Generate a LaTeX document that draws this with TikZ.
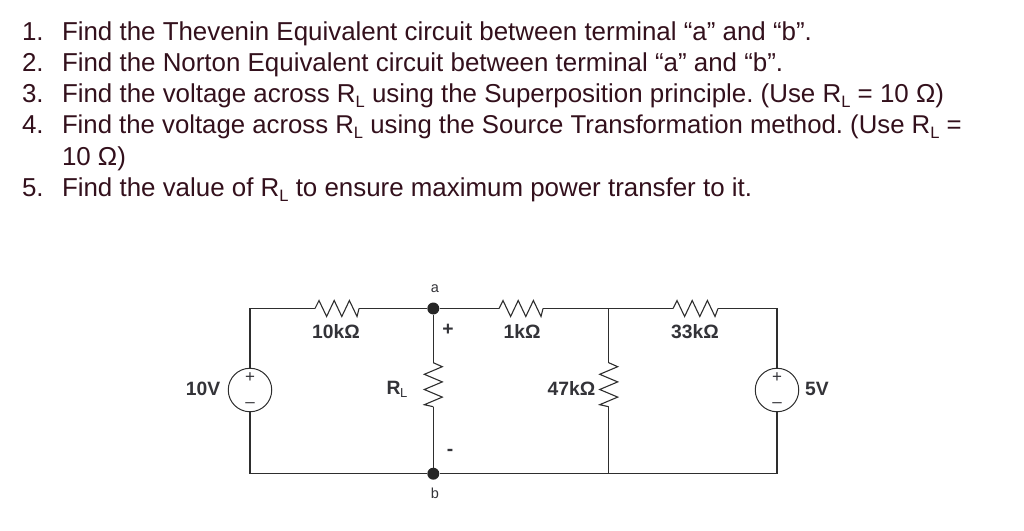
\documentclass[tikz,border=0pt]{standalone}
\usepackage{fontspec}
\setmainfont{Liberation Sans}
\frenchspacing
\definecolor{qtext}{HTML}{33101C}
\definecolor{ctext}{HTML}{333338}
\definecolor{wire}{HTML}{2E2E2E}
\newcommand{\Rqs}{R\raisebox{-5.5pt}{\fontsize{16.5}{16.5}\selectfont L}}
\newcommand{\resH}[2]{\draw[wirel] (#1) -- ++(4,-8) -- ++(7.6,16) -- ++(7.6,-16) -- ++(7.6,16) -- ++(7.6,-16) -- ++(7.6,16) -- (#2);}
\newcommand{\resV}[2]{\draw[wirel] (#1) -- ++(9,4) -- ++(-18,7.6) -- ++(18,7.6) -- ++(-18,7.6) -- ++(18,7.6) -- ++(-18,7.6) -- (#2);}
\tikzset{
  x=1pt,y=-1pt,
  wirel/.style={draw=wire,line width=1.1pt,line join=miter},
  qline/.style={anchor=base west,inner sep=0pt,outer sep=0pt,text=qtext,font=\fontsize{25.9}{25.9}\selectfont},
  qlinetight/.style={qline,font=\fontsize{25.75}{25.75}\selectfont},
  clabel/.style={inner sep=0pt,outer sep=0pt,text=ctext,font=\fontsize{19.3}{19.3}\selectfont\bfseries},
  tlabel/.style={inner sep=0pt,outer sep=0pt,text=ctext,font=\fontsize{14.5}{14.5}\selectfont},
  dotn/.style={circle,fill=black!85,draw=none,minimum size=12pt,inner sep=0pt},
  srcn/.style={circle,draw=wire,line width=1pt,minimum size=43.5pt,inner sep=0pt},
  signn/.style={inner sep=0pt,outer sep=0pt,text=ctext,font=\fontsize{17}{17}\selectfont},
}
\begin{document}
\begin{tikzpicture}
\useasboundingbox (0,0) rectangle (1024,530);
% question text
\node[qline] (n1) at (22,40) {1.};
\node[qline] (q1) at (62,40) {Find the Thevenin Equivalent circuit between terminal “a” and “b”.};
\node[qline] (n2) at (22,71) {2.};
\node[qline] (q2) at (62,71) {Find the Norton Equivalent circuit between terminal “a” and “b”.};
\node[qline] (n3) at (22,102) {3.};
\node[qline] (q3) at (62,102) {Find the voltage across \Rqs{} using the Superposition principle. (Use \Rqs{} = 10 Ω)};
\node[qline] (n4) at (22,133) {4.};
\node[qlinetight] (q4) at (62,133) {Find the voltage across \Rqs{} using the Source Transformation method. (Use \Rqs{} =};
\node[qline] (q4b) at (62,165) {10 Ω)};
\node[qline] (n5) at (22,196) {5.};
\node[qline] (q5) at (62,196) {Find the value of \Rqs{} to ensure maximum power transfer to it.};
% nodes
\node[dotn] (a) at (433.3,308.5) {};
\node[dotn] (b) at (433.3,473.7) {};
\node[srcn] (v1) at (250,390) {};
\node[srcn] (v2) at (777,390) {};
\coordinate (tl) at (250,308.5);
\coordinate (bl) at (250,473.7);
\coordinate (tm) at (608.7,308.5);
\coordinate (bm) at (608.7,473.7);
\coordinate (tr) at (777,308.5);
\coordinate (br) at (777,473.7);
\coordinate (r1a) at (315,308.5); \coordinate (r1b) at (359,308.5);
\coordinate (r2a) at (499,308.5); \coordinate (r2b) at (543,308.5);
\coordinate (r3a) at (673,308.5); \coordinate (r3b) at (718,308.5);
\coordinate (rla) at (433.3,362.7); \coordinate (rlb) at (433.3,406.7);
\coordinate (r4a) at (608.7,362.7); \coordinate (r4b) at (608.7,406.7);
% wires
\draw[wirel] (v1.north) -- (tl) -- (r1a);
\resH{r1a}{r1b}
\draw[wirel] (r1b) -- (a) -- (r2a);
\resH{r2a}{r2b}
\draw[wirel] (r2b) -- (tm) -- (r3a);
\resH{r3a}{r3b}
\draw[wirel] (r3b) -- (tr) -- (v2.north);
\draw[wirel] (v2.south) -- (br) -- (bm) -- (b) -- (bl) -- (v1.south);
\draw[wirel] (a) -- (rla);
\resV{rla}{rlb}
\draw[wirel] (rlb) -- (b);
\draw[wirel] (tm) -- (r4a);
\resV{r4a}{r4b}
\draw[wirel] (r4b) -- (bm);
% source signs
\node[signn] (p1) at (250,378) {+};
\node[signn] (m1) at (250,405) {–};
\node[signn] (p2) at (777,378) {+};
\node[signn] (m2) at (777,405) {–};
% labels
\node[clabel] (l10k) at (336,331.5) {10kΩ};
\node[clabel] (l1k) at (522,331.5) {1kΩ};
\node[clabel] (l33k) at (695,331.5) {33kΩ};
\node[clabel] (l47k) at (571.5,388.5) {47kΩ};
\node[clabel] (l10v) at (203,388.5) {10V};
\node[clabel] (l5v) at (817,388.5) {5V};
\node[clabel] (lrl) at (397,389) {R\kern-0.5pt\raisebox{-3pt}{\fontsize{13}{13}\selectfont\mdseries L}};
\node[tlabel] (la) at (435,289) {a};
\node[tlabel] (lb) at (435,493) {b};
\node[clabel] (lp) at (448,330) {+};
\node[clabel] (lm) at (450,452) {-};
\end{tikzpicture}
\end{document}
